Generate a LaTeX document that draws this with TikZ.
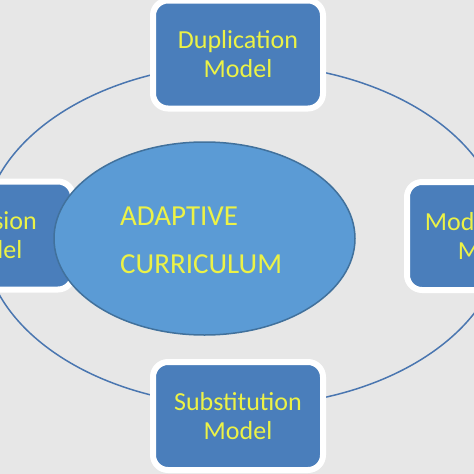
\documentclass[tikz,border=0pt]{standalone}
\usepackage{fontspec}
\setmainfont{Carlito}
\usetikzlibrary{shapes.geometric}
\definecolor{bg}{RGB}{231,231,231}
\definecolor{boxblue}{RGB}{74,126,187}
\definecolor{ellblue}{RGB}{91,155,213}
\definecolor{ellline}{RGB}{65,113,156}
\definecolor{ringline}{RGB}{74,118,176}
\definecolor{txtyellow}{RGB}{236,242,70}
\tikzset{
  modelbox/.style={rectangle, rounded corners=15pt, draw=white, line width=6pt,
    fill=boxblue, minimum width=170pt, minimum height=108pt, inner sep=0pt,
    align=center, text=txtyellow, font=\fontsize{26}{29}\selectfont},
  coreell/.style={ellipse, draw=ellline, line width=1.5pt, fill=ellblue,
    minimum width=301pt, minimum height=193pt, inner sep=0pt},
  coretext/.style={anchor=base west, inner sep=0pt, text=txtyellow,
    font=\fontsize{29}{29}\selectfont},
  ring/.style={draw=ringline, line width=1.5pt}
}
\begin{document}
\begin{tikzpicture}[x=1pt,y=-1pt]
\useasboundingbox (0,0) rectangle (474,474);
\fill[bg] (0,0) rectangle (474,474);
\clip (0,0) rectangle (474,474);
\draw[ring] (243,235) ellipse [x radius=260pt, y radius=171pt];
\node[modelbox] (dup) at (238,54.5) {Duplication\\Model};
\node[modelbox] (sub) at (238,416) {Substitution\\Model};
\node[modelbox] (omi) at (-12,235.5) {Omission\\Model};
\node[modelbox] (mod) at (492,236) {Modification\\Model};
\node[coreell] (core) at (204.5,238.5) {};
\node[coretext] (t1) at (120,225) {ADAPTIVE};
\node[coretext] (t2) at (120,273) {CURRICULUM};
\end{tikzpicture}
\end{document}
